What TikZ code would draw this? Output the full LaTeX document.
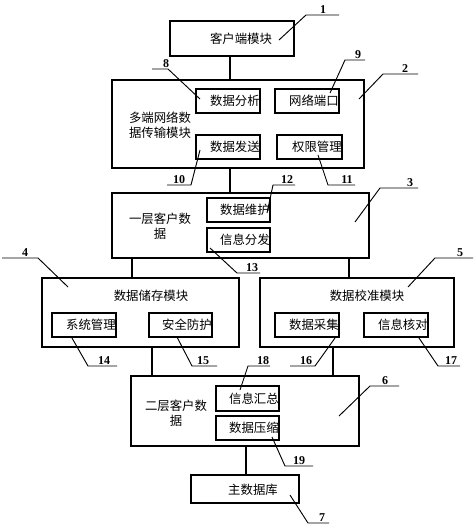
\documentclass[tikz,border=0pt]{standalone}
\usepackage{fontspec}
\setmainfont{Liberation Serif}
\newfontfamily\cjk{Noto Sans CJK SC}
\usetikzlibrary{fit,calc}

% recuadro con texto pegado al borde derecho
\newcommand{\kuang}[6]{%
  \node[subbox, fit={(#2,#3) (#4,#5)}] (#1) {};
  \node[anchor=east, inner sep=0.6pt] at (#1.east) {#6};
}

\begin{document}
\begin{tikzpicture}[
        x=0.75pt, y=-0.75pt,
        font=\cjk\fontsize{9.3pt}{11pt}\selectfont
    ]

        % --- ESTILOS ---
        \tikzset{
            mainbox/.style={draw, line width=0.9pt, inner sep=0pt},
            subbox/.style={draw, line width=1.2pt, inner sep=0pt},
            link/.style={line width=0.9pt},
            leader/.style={line width=0.7pt},
            num/.style={font=\rmfamily\bfseries\fontsize{9pt}{10pt}\selectfont, inner sep=1pt, anchor=south}
        }

        \useasboundingbox (0,0) rectangle (474,529);

        % --- MODULOS PRINCIPALES ---
        \node[mainbox, fit={(170,21) (294,56)}] (kehu) {};
        \node at (241,39) {客户端模块};

        \node[mainbox, fit={(112,80) (364,168)}] (duoduan) {};
        \node[align=center] at (160,125) {多端网络数\\据传输模块};
        \kuang{fenxi}{196}{89}{260}{113}{数据分析}
        \kuang{duankou}{275}{89}{339}{113}{网络端口}
        \kuang{fasong}{196}{135}{260}{159}{数据发送}
        \kuang{quanxian}{277}{135}{342}{159}{权限管理}

        \node[mainbox, fit={(112,193) (369,258)}] (yiceng) {};
        \node[align=center] at (160,226) {一层客户数\\据};
        \kuang{weihu}{207}{198}{270}{222}{数据维护}
        \kuang{fenfa}{207}{228}{270}{252}{信息分发}

        \node[mainbox, fit={(42,278) (239,347)}] (cunchu) {};
        \node at (151,296) {数据储存模块};
        \kuang{xitong}{52}{313}{116}{337}{系统管理}
        \kuang{anquan}{149}{313}{212}{337}{安全防护}

        \node[mainbox, fit={(260,278) (454,347)}] (jiaozhun) {};
        \node at (367,296) {数据校准模块};
        \kuang{caiji}{275}{313}{339}{337}{数据采集}
        \kuang{hedui}{364}{313}{428}{337}{信息核对}

        \node[mainbox, fit={(131,376) (359,446)}] (erceng) {};
        \node[align=center] at (176,413) {二层客户数\\据};
        \kuang{huizong}{216}{386}{279}{411}{信息汇总}
        \kuang{yasuo}{216}{416}{279}{440}{数据压缩}

        \node[mainbox, fit={(191,475) (299,503)}] (zhushu) {};
        \node at (253,490) {主数据库};

        % --- CONEXIONES ---
        \draw[link] (kehu.south -| 230,0) -- (duoduan.north -| 230,0);
        \draw[link] (duoduan.south -| 230,0) -- (yiceng.north -| 230,0);
        \draw[link] (yiceng.south -| 132,0) -- (cunchu.north -| 132,0);
        \draw[link] (yiceng.south -| 349,0) -- (jiaozhun.north -| 349,0);
        \draw[link] (cunchu.south -| 152,0) -- (erceng.north -| 152,0);
        \draw[link] (jiaozhun.south -| 333,0) -- (erceng.north -| 333,0);
        \draw[link] (erceng.south -| 246,0) -- (zhushu.north -| 246,0);

        % --- LINEAS DE REFERENCIA ---
        \foreach \sx/\sy/\ex/\ey/\hx/\lx/\n in {
            279/40/306/15/339/323/1,
            359/99/383/74/418/405/2,
            355/222/380/188/418/410/3,
            68/287/38/258/2/25/4,
            408/287/435/258/473/460/5,
            339/416/370/386/399/385/6,
            290/495/308/523/329/322/7,
            200/99/168/69/152/166/8,
            330/93/345/60/365/358/9,
            200/150/191/185/167/179/10,
            318/155/328/185/355/347/11,
            267/213/273/185/295/287/12,
            210/248/237/273/260/252/13,
            72/338/88/366/117/104/14,
            177/337/192/366/217/203/15,
            335/338/315/366/290/306/16,
            419/338/438/366/460/451/17,
            240/390/248/366/270/263/18,
            272/437/285/466/313/299/19}
        {
            \draw[leader] (\sx,\sy) -- (\ex,\ey) -- (\hx,\ey);
            \node[num] at (\lx,\ey) {\n};
        }

    \end{tikzpicture}
\end{document}
